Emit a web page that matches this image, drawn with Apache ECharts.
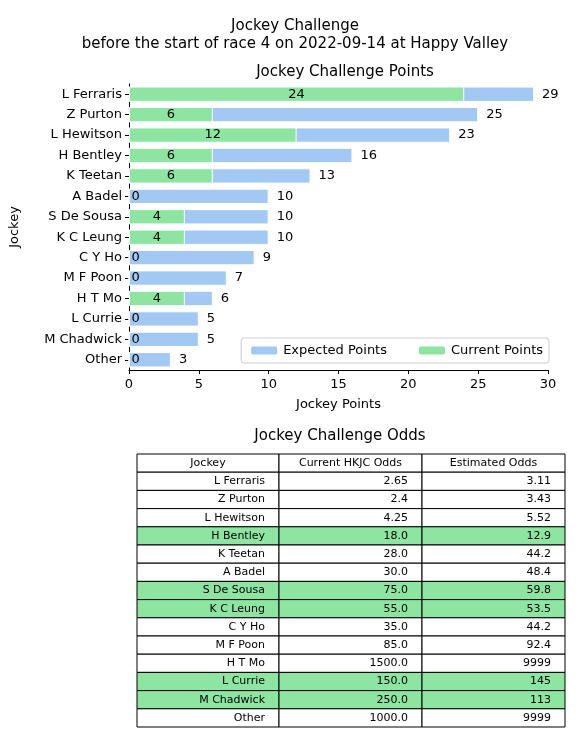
<!DOCTYPE html>
<html><head><meta charset="utf-8">
<script src="https://cdn.jsdelivr.net/npm/echarts@6/dist/echarts.min.js"></script>
<style>html,body{margin:0;padding:0;background:#fff}#c{width:580px;height:750px}</style>
</head><body><div id="c"></div>
<script>
const jockeys = ['L Ferraris','Z Purton','L Hewitson','H Bentley','K Teetan','A Badel','S De Sousa','K C Leung','C Y Ho','M F Poon','H T Mo','L Currie','M Chadwick','Other'];
const expectedPoints = [29,25,23,16,13,10,10,10,9,7,6,5,5,3];
const currentPoints = [24,6,12,6,6,0,4,4,0,0,4,0,0,0];
const hkjcOdds = ['2.65','2.4','4.25','18.0','28.0','30.0','75.0','55.0','35.0','85.0','1500.0','150.0','250.0','1000.0'];
const estOdds = ['3.11','3.43','5.52','12.9','44.2','48.4','59.8','53.5','44.2','92.4','9999','145','113','9999'];
const highlight = [false,false,false,true,false,false,true,true,false,false,false,true,true,false];
const tableHeader = ['Jockey','Current HKJC Odds','Estimated Odds'];
const xTicks = {min:0,max:30,interval:5};

const F = 'DejaVu Sans';
const blue = '#a1c9f4', green = '#8de5a1';
const chart = echarts.init(document.getElementById('c'));

// table graphics
const tx = [137,279,422,565], ty0 = 454, rh = 18.2;
const g = [];
const rows = [tableHeader].concat(jockeys.map((j,i)=>[j,hkjcOdds[i],estOdds[i]]));
rows.forEach((r,ri)=>{
  const y = ty0 + ri*rh;
  const fill = ri>0 && highlight[ri-1] ? green : '#fff';
  for(let c=0;c<3;c++){
    g.push({type:'rect',shape:{x:tx[c],y:y,width:tx[c+1]-tx[c],height:rh},style:{fill:fill,stroke:'#000',lineWidth:1}});
    const head = ri===0;
    g.push({type:'text',x: head ? (tx[c]+tx[c+1])/2 : tx[c+1]-14, y:y+rh/2,
      style:{text:r[c],font:'11px '+F,fill:'#000',align: head?'center':'right',verticalAlign:'middle'}});
  }
});
g.push({type:'text',x:340,y:436,style:{text:'Jockey Challenge Odds',font:'15px '+F,fill:'#000',align:'center',verticalAlign:'middle'}});

chart.setOption({
  animation:false,
  title:[{text:'Jockey Challenge\nbefore the start of race 4 on 2022-09-14 at Happy Valley',left:290,top:12,textAlign:'center',
    textStyle:{fontFamily:F,fontSize:15,fontWeight:'normal',color:'#000',lineHeight:18}},
    {text:'Jockey Challenge Points',left:340,top:60,textAlign:'center',textStyle:{fontFamily:F,fontSize:15,fontWeight:'normal',color:'#000'}}],
  legend:{right:31,top:338,orient:'horizontal',itemWidth:28,itemHeight:10,itemGap:30,
    borderColor:'#ccc',borderWidth:1,borderRadius:3,padding:[6,6,6,8],
    textStyle:{fontFamily:F,fontSize:13,color:'#000'},data:['Expected Points','Current Points']},
  grid:{left:128,right:32,top:84,bottom:380,containLabel:false},
  xAxis:{type:'value',min:xTicks.min,max:xTicks.max,interval:xTicks.interval,name:'Jockey Points',nameLocation:'middle',nameGap:28,
    nameTextStyle:{fontFamily:F,fontSize:13,color:'#000'},
    axisLine:{show:true,lineStyle:{color:'#000'}},axisTick:{show:true,length:4,lineStyle:{color:'#000'}},
    axisLabel:{fontFamily:F,fontSize:13,color:'#000',margin:8},splitLine:{show:false}},
  yAxis:{type:'category',inverse:true,data:jockeys,name:'Jockey',nameLocation:'middle',nameGap:108,nameRotate:90,
    nameTextStyle:{fontFamily:F,fontSize:13,color:'#000'},
    axisLine:{show:true,lineStyle:{color:'#000'}},axisTick:{show:true,length:4,alignWithLabel:true,lineStyle:{color:'#000'}},
    axisLabel:{fontFamily:F,fontSize:13,color:'#000',margin:7}},
  series:[
    {name:'Expected Points',type:'bar',data:expectedPoints,barWidth:'75%',itemStyle:{color:blue,borderColor:'#fff',borderWidth:1},
     label:{show:true,position:'right',distance:8,fontFamily:F,fontSize:13,color:'#000'}},
    {name:'Current Points',type:'bar',data:currentPoints.map(v=>({value:v,label:v===0?{position:'right',distance:2}:{position:'inside'}})),
     barWidth:'75%',barGap:'-100%',itemStyle:{color:green,borderColor:'#fff',borderWidth:1},
     label:{show:true,fontFamily:F,fontSize:13,color:'#000'}}
  ],
  graphic:g
});
</script></body></html>
